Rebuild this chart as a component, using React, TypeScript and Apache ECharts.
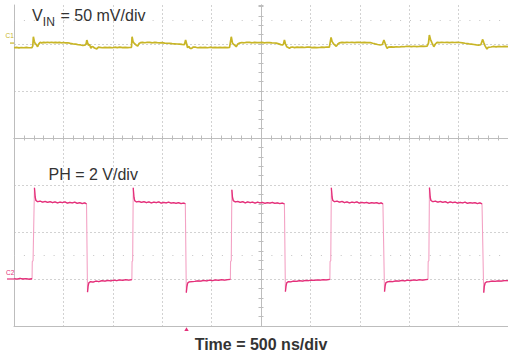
import { useEffect, useRef } from "react";
import * as echarts from "echarts";

// ---- scope settings ----
const TIME_PER_DIV_NS = 500;
const X_DIVS = 10;
const VIN_MV_PER_DIV = 50;
const PH_V_PER_DIV = 2;
const CH1_OFFSET_DIV = 2.02;
const CH2_OFFSET_DIV = -3.0;
const TRIGGER_NS = 1746;
const Y_MIN_DIV = -4;
const Y_MAX_DIV = 2.83;
const DOT_LEVELS_DIV = [2.5, -2.5];

// ---- texts ----
const VIN_LABEL_MAIN = "V";
const VIN_LABEL_SUB = "IN";
const VIN_LABEL_REST = "= 50 mV/div";
const PH_LABEL = "PH = 2 V/div";
const TIME_LABEL = "Time = 500 ns/div";
const CH1_TAG = "C1";
const CH2_TAG = "C2";

// ---- VIN trace: [time from left edge (ns), mV relative to marker] ----
const VIN_TRACE: [number, number][] = [
  [0, -5.0], [25, -4.6], [50, -5.1], [75, -4.7], [100, -5.0], [125, -4.6], [150, -5.0], [182, -4.8],
  [190, -3.0], [196, 6.7], [205, 2.0], [212, 0.0], [225, -1.5], [239, -3.9], [250, -1.0], [263, 0.7],
  [280, 0.2], [300, 0.8], [320, 0.4], [340, 0.9], [360, 0.5], [380, 0.9], [400, 0.4], [420, 0.8],
  [440, 0.5], [460, 0.7], [480, 0.3], [500, 0.6], [520, 0.2], [545, 0.3], [570, -0.4], [595, -0.8],
  [626, -1.2], [650, -1.8], [675, -2.0], [697, -2.6], [715, -2.3], [730, -1.0], [737, 3.2], [745, 0.5],
  [755, -2.5], [765, -1.5], [778, -5.6], [788, -3.6], [798, -3.9], [815, -5.2], [838, -6.2], [855, -4.4],
  [869, -4.6], [895, -5.0], [920, -4.5], [945, -4.9], [970, -4.6], [995, -5.0], [1020, -4.4], [1045, -4.8],
  [1071, -4.4], [1100, -4.9], [1125, -4.5], [1150, -4.8], [1172, -4.7], [1189, -4.5],
  [1195, 6.7], [1205, 1.5], [1215, 0.0], [1235, -2.0], [1252, -3.2], [1265, -0.5], [1280, 0.4], [1300, 0.8],
  [1325, 0.3], [1350, 0.9], [1374, 0.7], [1400, 0.3], [1425, 0.8], [1450, 0.4], [1475, 0.2], [1500, 0.5],
  [1525, 0.0], [1550, -0.2], [1576, -0.3], [1600, -0.6], [1625, -0.8], [1650, -1.0], [1677, -1.1], [1700, -1.4],
  [1725, -1.6], [1737, 3.2], [1745, 0.0], [1757, -5.0], [1770, -3.5], [1782, -5.6], [1798, -5.6], [1815, -4.2],
  [1838, -4.4], [1860, -5.0], [1885, -4.5], [1910, -4.9], [1935, -4.6], [1960, -5.0], [1985, -4.4], [2010, -4.8],
  [2035, -4.5], [2060, -4.9], [2085, -4.6], [2110, -4.8], [2135, -4.5], [2160, -4.8], [2182, -4.6],
  [2199, 6.7], [2212, -0.3], [2230, -2.0], [2249, -3.9], [2265, -1.0], [2283, 0.0], [2305, 0.6], [2330, 0.3],
  [2355, 0.8], [2384, 0.7], [2410, 0.3], [2435, 0.8], [2460, 0.5], [2485, 0.4], [2510, 0.7], [2535, 0.3],
  [2560, 0.6], [2586, 0.5], [2610, 0.2], [2635, 0.1], [2653, 0.0], [2680, -0.9], [2700, -1.6], [2717, -2.1],
  [2728, -1.0], [2737, 3.2], [2748, -1.0], [2760, -3.8], [2775, -4.6], [2788, -5.6], [2800, -4.6], [2818, -4.2],
  [2840, -4.8], [2865, -4.4], [2889, -4.6], [2915, -4.3], [2940, -4.7], [2965, -4.4], [2990, -4.4], [3015, -4.8],
  [3040, -4.5], [3065, -4.8], [3091, -4.7], [3115, -4.3], [3140, -4.6], [3165, -4.2], [3192, -4.3],
  [3209, 6.1], [3220, 1.5], [3232, -0.5], [3262, -3.5], [3278, -1.0], [3293, 0.3], [3320, 0.7], [3345, 0.4],
  [3370, 0.8], [3394, 0.6], [3420, 0.9], [3445, 0.5], [3470, 0.8], [3495, 0.7], [3520, 0.5], [3545, 0.8],
  [3570, 0.4], [3606, 0.6], [3630, -0.2], [3655, -0.9], [3680, -1.5], [3707, -2.1], [3728, -1.5], [3744, 3.2],
  [3755, 0.0], [3765, -3.0], [3777, -5.6], [3790, -4.4], [3818, -4.0], [3845, -4.4], [3870, -3.9], [3899, -4.2],
  [3925, -3.7], [3950, -3.9], [3975, -3.4], [4000, -3.5], [4025, -3.8], [4050, -3.4], [4075, -3.7], [4101, -3.6],
  [4125, -3.3], [4150, -3.6], [4181, -3.4],
  [4195, 0.0], [4204, 8.5], [4215, 4.0], [4232, 0.0], [4249, -3.9], [4265, -1.0], [4282, 0.7], [4305, 0.4],
  [4330, 0.9], [4355, 0.6], [4383, 0.8], [4410, 0.5], [4435, 0.9], [4460, 0.6], [4490, 0.7], [4515, 0.6],
  [4540, 0.2], [4565, -0.2], [4590, -0.5], [4606, -0.8], [4630, -1.1], [4655, -1.5], [4680, -1.9], [4704, -2.1],
  [4725, -1.8], [4744, 3.9], [4755, 0.5], [4768, -3.0], [4787, -6.4], [4800, -4.5], [4828, -4.2], [4850, -3.6],
  [4880, -4.0], [4909, -3.6], [4935, -3.9], [4960, -3.5], [5000, -3.8],
];

// ---- PH trace: [time from left edge (ns), volts] ----
const PH_TRACE: [number, number][] = [
  [0, 0.02], [30, -0.01], [60, 0.03], [90, 0.0], [120, 0.02], [150, -0.01], [183, 0.01],
  [185, 0.74], [193, 0.78], [207, 3.88], [214, 3.5], [222, 3.34], [240, 3.29], [265, 3.31], [290, 3.27],
  [315, 3.3], [340, 3.26], [365, 3.29], [390, 3.25], [415, 3.28], [440, 3.24], [465, 3.27], [490, 3.25],
  [515, 3.28], [540, 3.23], [565, 3.26], [590, 3.24], [615, 3.27], [640, 3.22], [665, 3.25], [690, 3.21],
  [715, 3.24], [734, 3.2],
  [744, -0.56], [750, -0.3], [758, -0.16], [775, -0.11], [800, -0.13], [830, -0.09], [860, -0.11], [890, -0.07],
  [920, -0.09], [950, -0.06], [980, -0.08], [1010, -0.05], [1040, -0.07], [1070, -0.04], [1100, -0.06],
  [1130, -0.03], [1160, -0.05], [1193, -0.03],
  [1195, 0.74], [1201, 0.78], [1207, 3.88], [1214, 3.48], [1222, 3.33], [1240, 3.28], [1265, 3.3], [1290, 3.26],
  [1315, 3.29], [1340, 3.25], [1365, 3.28], [1390, 3.24], [1415, 3.27], [1440, 3.25], [1465, 3.28], [1490, 3.23],
  [1515, 3.26], [1540, 3.24], [1565, 3.27], [1590, 3.23], [1615, 3.25], [1640, 3.22], [1665, 3.25], [1690, 3.21],
  [1715, 3.23], [1734, 3.21],
  [1744, -0.58], [1750, -0.32], [1758, -0.17], [1775, -0.12], [1800, -0.11], [1830, -0.1], [1860, -0.08],
  [1890, -0.09], [1920, -0.06], [1950, -0.08], [1980, -0.05], [2010, -0.07], [2040, -0.04], [2070, -0.06],
  [2100, -0.03], [2130, -0.05], [2160, -0.03], [2190, -0.02],
  [2192, 0.74], [2199, 0.78], [2205, 3.8], [2212, 3.46], [2220, 3.33], [2240, 3.28], [2265, 3.3], [2290, 3.26],
  [2315, 3.29], [2340, 3.24], [2365, 3.28], [2390, 3.25], [2415, 3.27], [2440, 3.23], [2465, 3.27], [2490, 3.24],
  [2515, 3.26], [2540, 3.22], [2565, 3.25], [2590, 3.23], [2615, 3.26], [2640, 3.22], [2665, 3.24], [2690, 3.21],
  [2715, 3.23], [2737, 3.2],
  [2747, -0.54], [2753, -0.3], [2761, -0.16], [2778, -0.11], [2800, -0.12], [2830, -0.09], [2860, -0.1],
  [2890, -0.07], [2920, -0.09], [2950, -0.06], [2980, -0.07], [3010, -0.05], [3040, -0.06], [3070, -0.04],
  [3100, -0.05], [3130, -0.03], [3160, -0.04], [3197, -0.02],
  [3199, 0.74], [3206, 0.78], [3212, 3.88], [3219, 3.5], [3227, 3.34], [3245, 3.29], [3270, 3.31], [3295, 3.27],
  [3320, 3.3], [3345, 3.25], [3370, 3.28], [3395, 3.24], [3420, 3.27], [3445, 3.25], [3470, 3.28], [3495, 3.23],
  [3520, 3.26], [3545, 3.24], [3570, 3.26], [3595, 3.22], [3620, 3.25], [3645, 3.23], [3670, 3.25], [3695, 3.21],
  [3715, 3.24], [3734, 3.2],
  [3750, -0.54], [3756, -0.3], [3764, -0.16], [3780, -0.12], [3805, -0.1], [3835, -0.11], [3865, -0.08],
  [3895, -0.09], [3925, -0.06], [3955, -0.08], [3985, -0.05], [4015, -0.07], [4045, -0.04], [4075, -0.06],
  [4105, -0.03], [4135, -0.05], [4165, -0.03], [4190, -0.02],
  [4192, 0.74], [4199, 0.78], [4205, 3.89], [4212, 3.5], [4220, 3.34], [4240, 3.29], [4265, 3.31], [4290, 3.27],
  [4315, 3.3], [4340, 3.26], [4365, 3.29], [4390, 3.24], [4415, 3.28], [4440, 3.25], [4465, 3.27], [4490, 3.23],
  [4515, 3.26], [4540, 3.24], [4565, 3.27], [4590, 3.22], [4615, 3.25], [4640, 3.23], [4665, 3.25], [4690, 3.21],
  [4715, 3.24], [4737, 3.2],
  [4754, -0.58], [4760, -0.32], [4768, -0.17], [4785, -0.12], [4810, -0.11], [4840, -0.09], [4870, -0.1],
  [4900, -0.08], [4930, -0.09], [4960, -0.07], [5000, -0.07],
];

const FONT = '"Liberation Sans", Arial, Helvetica, sans-serif';
const YELLOW = "#c8b526";
const PINK = "#e4307a";
const PINK_LIGHT = "#f3a2c4";
const TEXT = "#333333";
const GRID = "#d2d2d2";
const AXIS = "#bdbdbd";

export default function App() {
  const ref = useRef<HTMLDivElement>(null);

  useEffect(() => {
    if (!ref.current) return;
    const chart = echarts.init(ref.current, undefined, { renderer: "svg" });
    const half = (X_DIVS * TIME_PER_DIV_NS) / 2;
    const toX = (t: number) => t - half;

    const vinData = VIN_TRACE.map(([t, mv]) => [toX(t), CH1_OFFSET_DIV + mv / VIN_MV_PER_DIV]);
    const phAll = PH_TRACE.map(([t, v]) => [toX(t), CH2_OFFSET_DIV + v / PH_V_PER_DIV]);
    // settled (non-transition) parts drawn in full colour; transitions stay faint
    const phFlat: any[] = [];
    PH_TRACE.forEach(([t, v], i) => {
      const midLevel = v > 0.5 && v < 3.0;
      const jump = i > 0 && Math.abs(v - PH_TRACE[i - 1][1]) > 1;
      if (midLevel) {
        phFlat.push([toX(t), "-"]);
        return;
      }
      if (jump) phFlat.push([toX((t + PH_TRACE[i - 1][0]) / 2), "-"]);
      phFlat.push([toX(t), CH2_OFFSET_DIV + v / PH_V_PER_DIV]);
    });

    const splitStyle = { color: GRID, type: [2, 2] as any, width: 1 };
    const centerX = (inside: boolean) => ({
      type: "value",
      min: -half,
      max: half,
      interval: TIME_PER_DIV_NS / 5,
      position: "bottom",
      axisLine: { show: true, onZero: true, onZeroAxisIndex: 0, lineStyle: { color: AXIS, width: 1 } },
      axisTick: { show: true, inside, length: 2.5, lineStyle: { color: AXIS, width: 1 } },
      axisLabel: { show: false },
      splitLine: { show: false },
    });
    const centerY = (inside: boolean) => ({
      type: "value",
      min: Y_MIN_DIV,
      max: Y_MAX_DIV,
      interval: 0.2,
      position: "left",
      axisLine: { show: true, onZero: true, onZeroAxisIndex: 0, lineStyle: { color: AXIS, width: 1 } },
      axisTick: { show: true, inside, length: 2.5, lineStyle: { color: AXIS, width: 1 } },
      axisLabel: { show: false },
      splitLine: { show: false },
    });

    const option: any = {
      animation: false,
      backgroundColor: "#ffffff",
      grid: { left: 14, right: -1, top: 5, bottom: 31, containLabel: false },
      xAxis: [
        {
          type: "value",
          min: -half,
          max: half,
          interval: TIME_PER_DIV_NS,
          position: "bottom",
          axisLine: { show: true, onZero: false, lineStyle: { color: AXIS, width: 1 } },
          axisTick: { show: false },
          axisLabel: { show: false },
          splitLine: { show: true, showMinLine: false, lineStyle: splitStyle },
        },
        centerX(true),
        centerX(false),
      ],
      yAxis: [
        {
          type: "value",
          min: Y_MIN_DIV,
          max: Y_MAX_DIV,
          interval: 1,
          position: "left",
          axisLine: { show: true, onZero: false, lineStyle: { color: AXIS, width: 1 } },
          axisTick: { show: false },
          axisLabel: { show: false },
          splitLine: { show: true, showMinLine: false, showMaxLine: false, lineStyle: splitStyle },
        },
        centerY(true),
        centerY(false),
      ],
      series: [
        {
          name: "VIN",
          type: "line",
          xAxisIndex: 0,
          yAxisIndex: 0,
          data: vinData,
          showSymbol: false,
          symbol: "none",
          lineStyle: { color: YELLOW, width: 1.7 },
          z: 5,
          markLine: {
            silent: true,
            symbol: "none",
            label: { show: false },
            animation: false,
            lineStyle: { color: "#c4c4c4", type: [1, 8.9], width: 1 },
            data: DOT_LEVELS_DIV.map((v) => ({ yAxis: v })),
          },
        },
        {
          name: "PH edges",
          type: "line",
          xAxisIndex: 0,
          yAxisIndex: 0,
          data: phAll,
          showSymbol: false,
          symbol: "none",
          lineStyle: { color: PINK_LIGHT, width: 1.1 },
          z: 5,
        },
        {
          name: "PH",
          type: "line",
          xAxisIndex: 0,
          yAxisIndex: 0,
          data: phFlat,
          connectNulls: false,
          showSymbol: false,
          symbol: "none",
          lineStyle: { color: PINK, width: 1.3 },
          z: 6,
        },
      ],
    };
    chart.setOption(option);

    const c1 = chart.convertToPixel({ seriesIndex: 0 }, [-half, CH1_OFFSET_DIV]) as number[];
    const c2 = chart.convertToPixel({ seriesIndex: 0 }, [-half, CH2_OFFSET_DIV]) as number[];
    const trig = chart.convertToPixel({ seriesIndex: 0 }, [toX(TRIGGER_NS), Y_MIN_DIV]) as number[];

    const txt = (text: string, x: number, y: number, size: number, opts: any = {}) => ({
      type: "text",
      x,
      y,
      z: 20,
      style: {
        text,
        fill: opts.fill || TEXT,
        fontSize: size,
        fontFamily: FONT,
        fontWeight: opts.bold ? "bold" : "normal",
        align: opts.align || "left",
        verticalAlign: "middle",
      },
    });

    chart.setOption({
      graphic: [
        txt(VIN_LABEL_MAIN, 32, 15.5, 16),
        txt(VIN_LABEL_SUB, 42.8, 21.8, 12),
        txt(VIN_LABEL_REST, 60.5, 15.5, 16),
        txt(PH_LABEL, 48.5, 174, 16),
        txt(TIME_LABEL, 261, 344.5, 16, { bold: true, align: "center" }),
        txt(CH1_TAG, 5.5, c1[1] - 7.5, 6.5, { fill: YELLOW }),
        txt(CH2_TAG, 6, c2[1] - 7, 6.5, { fill: PINK }),
        {
          type: "line",
          z: 20,
          shape: { x1: c1[0] - 4, y1: c1[1], x2: c1[0], y2: c1[1] },
          style: { stroke: YELLOW, lineWidth: 1.2 },
        },
        {
          type: "line",
          z: 20,
          shape: { x1: c2[0] - 7, y1: c2[1], x2: c2[0], y2: c2[1] },
          style: { stroke: PINK, lineWidth: 1.2 },
        },
        {
          type: "polygon",
          z: 20,
          shape: {
            points: [
              [trig[0], trig[1] + 1.2],
              [trig[0] - 2.2, trig[1] + 5],
              [trig[0] + 2.2, trig[1] + 5],
            ],
          },
          style: { fill: PINK },
        },
      ],
    });

    return () => chart.dispose();
  }, []);

  return (
    <div
      ref={ref}
      style={{ position: "fixed", left: 0, top: 0, width: 508, height: 357, background: "#fff" }}
    />
  );
}
